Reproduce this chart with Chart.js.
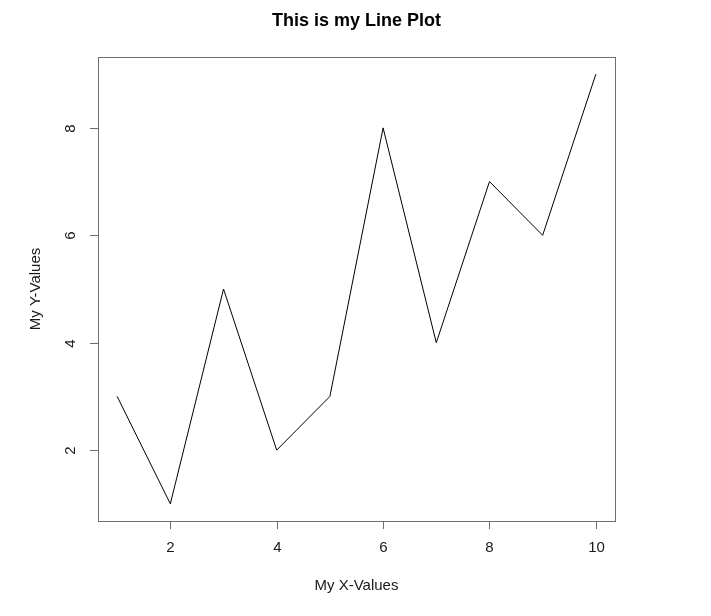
<!DOCTYPE html>
<html>
<head>
<meta charset="utf-8">
<script src="https://cdn.jsdelivr.net/npm/chart.js@4/dist/chart.umd.min.js"></script>
<style>
  html, body { margin: 0; padding: 0; background: #fff; }
  #wrap { width: 711px; height: 616px; }
</style>
</head>
<body>
<div id="wrap"><canvas id="linePlot"></canvas></div>
<script>
// data
const xValues = [1, 2, 3, 4, 5, 6, 7, 8, 9, 10];
const yValues = [3, 1, 5, 2, 3, 8, 4, 7, 6, 9];
const xTicks = [2, 4, 6, 8, 10];
const yTicks = [2, 4, 6, 8];

const plotTitle = 'This is my Line Plot';
const xTitle = 'My X-Values';
const yTitle = 'My Y-Values';

const FONT = '"Liberation Sans", Arial, sans-serif';

// R-style frame, ticks and labels drawn from the chart's scales
const baseAxes = {
    id: 'baseAxes',
    afterDraw(chart) {
        const ctx = chart.ctx;
        const area = chart.chartArea;
        const xs = chart.scales.x;
        const ys = chart.scales.y;
        const tickLen = 8;

        ctx.save();
        ctx.strokeStyle = '#6e6e6e';
        ctx.lineWidth = 1;
        ctx.strokeRect(Math.round(area.left) + 0.5, Math.round(area.top) + 0.5,
            Math.round(area.right - area.left), Math.round(area.bottom - area.top));

        ctx.fillStyle = '#1a1a1a';
        ctx.font = '15px ' + FONT;

        // x ticks
        ctx.textAlign = 'center';
        ctx.textBaseline = 'middle';
        xTicks.forEach(function(v) {
            const px = Math.round(xs.getPixelForValue(v)) + 0.5;
            ctx.beginPath();
            ctx.moveTo(px, area.bottom);
            ctx.lineTo(px, area.bottom + tickLen);
            ctx.stroke();
            ctx.fillText(String(v), px, area.bottom + 27);
        });

        // y ticks, labels parallel to the axis
        yTicks.forEach(function(v) {
            const py = Math.round(ys.getPixelForValue(v)) + 0.5;
            ctx.beginPath();
            ctx.moveTo(area.left, py);
            ctx.lineTo(area.left - tickLen, py);
            ctx.stroke();
            ctx.save();
            ctx.translate(area.left - 27, py);
            ctx.rotate(-Math.PI / 2);
            ctx.fillText(String(v), 0, 0);
            ctx.restore();
        });

        // axis titles
        const midX = (area.left + area.right) / 2;
        const midY = (area.top + area.bottom) / 2;
        ctx.fillText(xTitle, midX, area.bottom + 65);
        ctx.save();
        ctx.translate(area.left - 62, midY);
        ctx.rotate(-Math.PI / 2);
        ctx.fillText(yTitle, 0, 0);
        ctx.restore();

        // main title
        ctx.font = 'bold 18px ' + FONT;
        ctx.fillStyle = '#000';
        ctx.fillText(plotTitle, midX, 21);
        ctx.restore();
    }
};

const ctx = document.getElementById('linePlot').getContext('2d');
const linePlot = new Chart(ctx, {
    type: 'line',
    data: {
        datasets: [{
            data: xValues.map(function(x, i) { return { x: x, y: yValues[i] }; }),
            borderColor: '#000',
            borderWidth: 1,
            pointRadius: 0,
            tension: 0,
            fill: false
        }]
    },
    options: {
        responsive: true,
        maintainAspectRatio: false,
        animation: false,
        layout: {
            padding: { left: 98, right: 96, top: 57, bottom: 95 }
        },
        plugins: {
            legend: { display: false },
            tooltip: { enabled: false }
        },
        scales: {
            x: {
                type: 'linear',
                display: false,
                min: 0.64,   // R pads the range by 4%
                max: 10.36
            },
            y: {
                type: 'linear',
                display: false,
                min: 0.68,
                max: 9.32
            }
        }
    },
    plugins: [baseAxes]
});
</script>
</body>
</html>
